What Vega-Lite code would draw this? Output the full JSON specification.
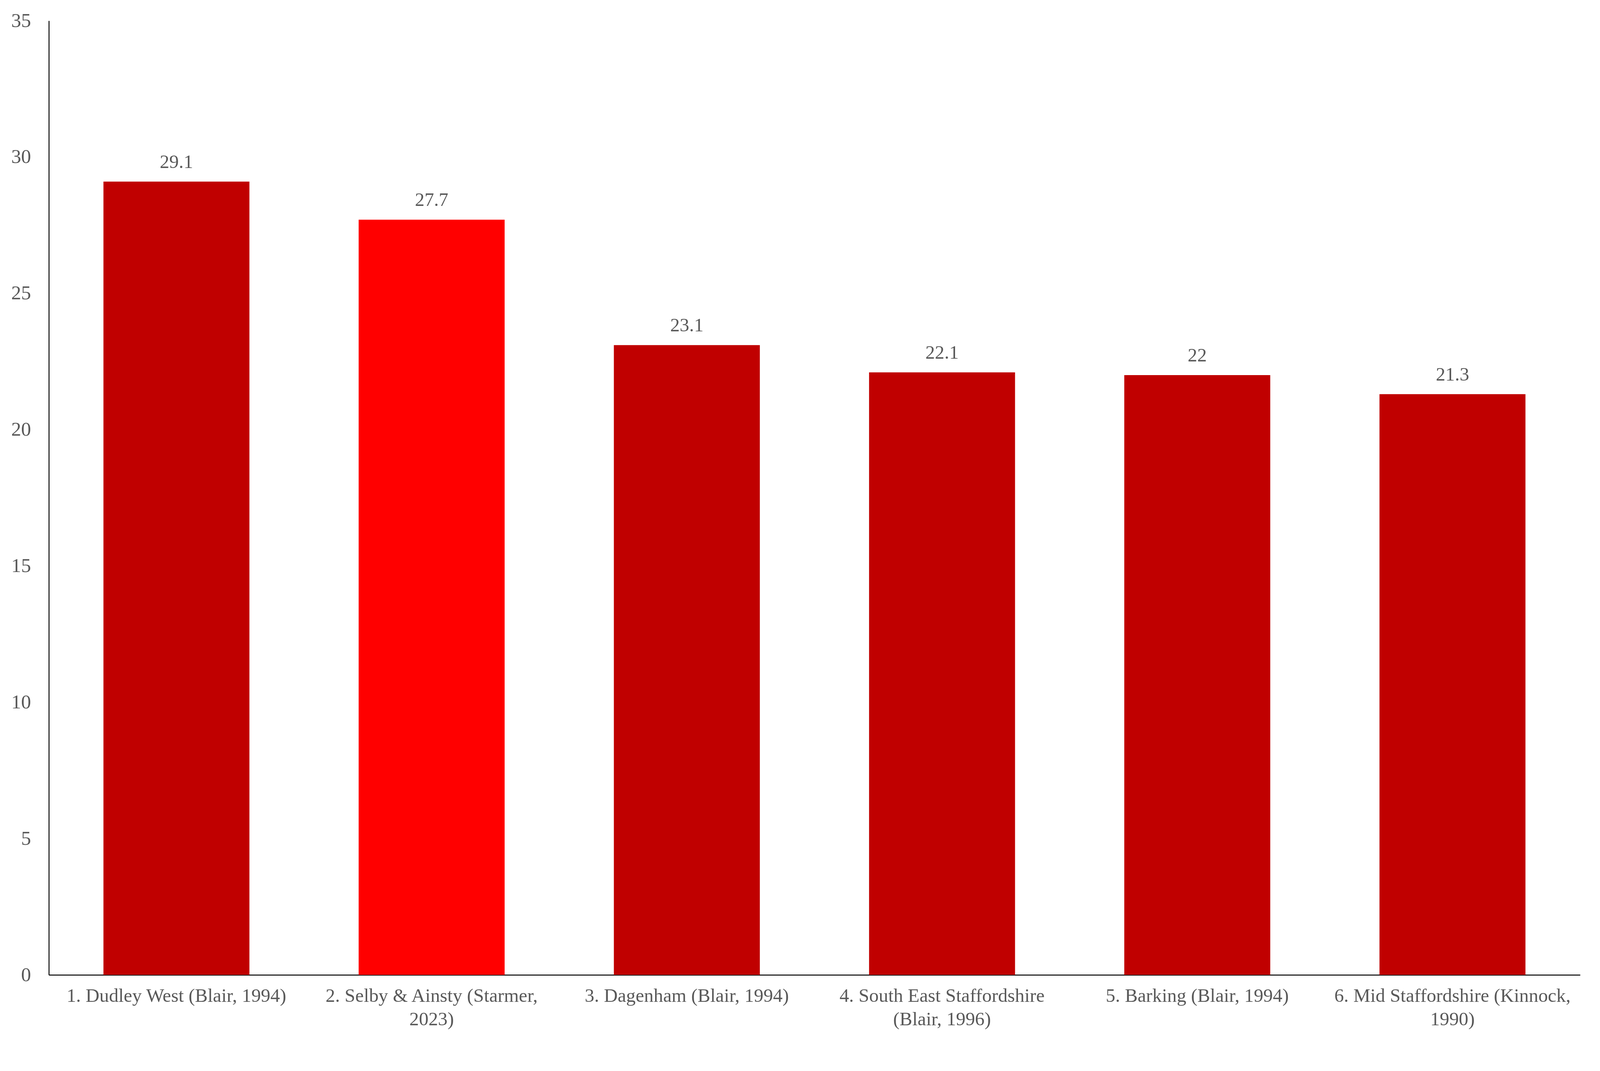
{
  "$schema": "https://vega.github.io/schema/vega-lite/v6.json",
  "width": 3920,
  "height": 2442,
  "autosize": "none",
  "padding": {"left": 125, "top": 53, "right": 51, "bottom": 181},
  "background": "white",
  "config": {"view": {"stroke": null}, "font": "Liberation Serif"},
  "data": {
    "values": [
      {"seat": "1. Dudley West (Blair, 1994)", "swing": 29.1, "highlight": "no"},
      {"seat": "2. Selby & Ainsty (Starmer, 2023)", "swing": 27.7, "highlight": "yes"},
      {"seat": "3. Dagenham (Blair, 1994)", "swing": 23.1, "highlight": "no"},
      {"seat": "4. South East Staffordshire (Blair, 1996)", "swing": 22.1, "highlight": "no"},
      {"seat": "5. Barking (Blair, 1994)", "swing": 22, "highlight": "no"},
      {"seat": "6. Mid Staffordshire (Kinnock, 1990)", "swing": 21.3, "highlight": "no"}
    ]
  },
  "encoding": {
    "x": {
      "field": "seat",
      "type": "nominal",
      "sort": null,
      "scale": {"paddingInner": 0.428, "paddingOuter": 0.214},
      "axis": {
        "title": null,
        "domain": true,
        "domainColor": "black",
        "domainWidth": 2.4,
        "ticks": false,
        "labelAngle": 0,
        "labelColor": "#595959",
        "labelFontSize": 48.8,
        "labelPadding": 29,
        "labelBaseline": "top",
        "labelLineHeight": 60.5,
        "labelLimit": 0,
        "labelExpr": "datum.label == '2. Selby & Ainsty (Starmer, 2023)' ? ['2. Selby & Ainsty (Starmer,', '2023)'] : datum.label == '4. South East Staffordshire (Blair, 1996)' ? ['4. South East Staffordshire', '(Blair, 1996)'] : datum.label == '6. Mid Staffordshire (Kinnock, 1990)' ? ['6. Mid Staffordshire (Kinnock,', '1990)'] : datum.label"
      }
    },
    "y": {
      "field": "swing",
      "type": "quantitative",
      "scale": {"domain": [0, 35], "nice": false},
      "axis": {
        "title": null,
        "values": [0, 5, 10, 15, 20, 25, 30, 35],
        "grid": false,
        "domain": true,
        "domainColor": "black",
        "domainWidth": 2.4,
        "ticks": false,
        "labelColor": "#595959",
        "labelFontSize": 50.8,
        "labelPadding": 46
      }
    }
  },
  "layer": [
    {
      "mark": {"type": "bar"},
      "encoding": {
        "color": {
          "field": "highlight",
          "type": "nominal",
          "scale": {"domain": ["no", "yes"], "range": ["#C00000", "#FF0000"]},
          "legend": null
        }
      }
    },
    {
      "mark": {
        "type": "text",
        "baseline": "alphabetic",
        "align": "center",
        "dy": -35,
        "fontSize": 48.8,
        "color": "#595959"
      },
      "encoding": {
        "text": {"field": "swing", "type": "quantitative"}
      }
    }
  ]
}
